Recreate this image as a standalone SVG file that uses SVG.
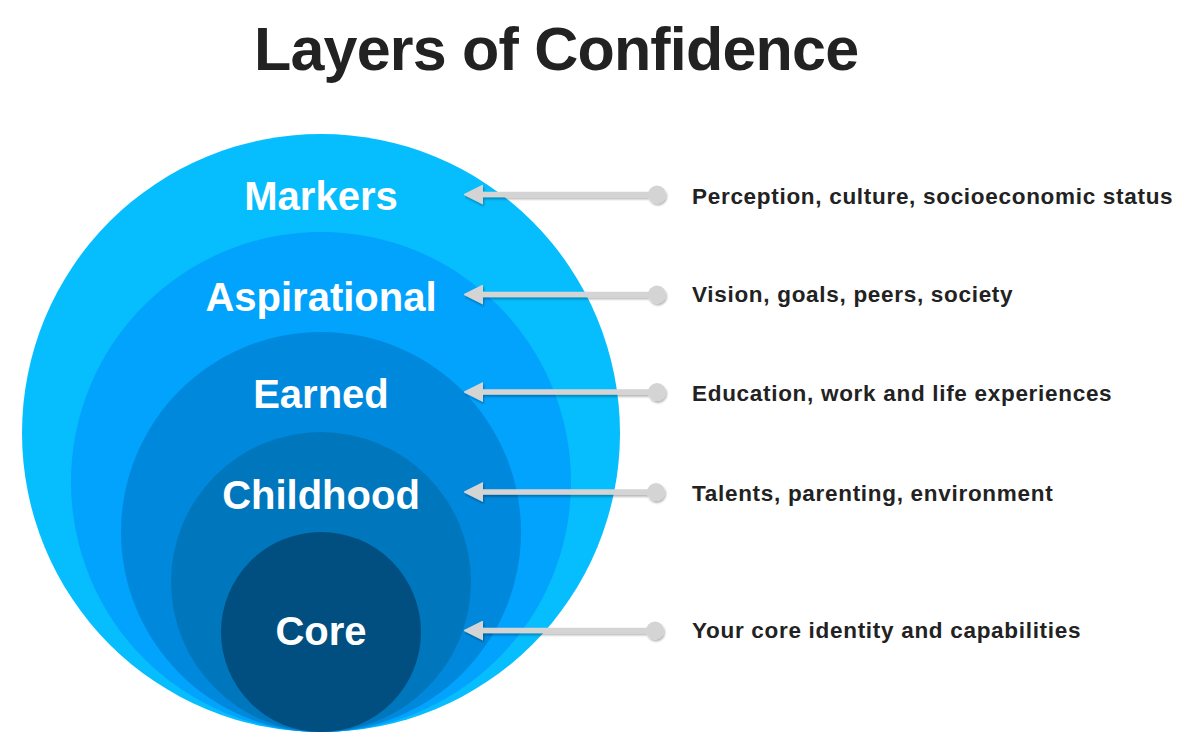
<svg xmlns="http://www.w3.org/2000/svg" width="1188" height="754" viewBox="0 0 1188 754">
<defs>
<style>
.title{font-family:"Liberation Sans",Arial,sans-serif;font-weight:bold;font-size:61px;fill:#222;letter-spacing:-0.8px}
.ring{font-family:"Liberation Sans",Arial,sans-serif;font-weight:bold;font-size:40px;fill:#fff;text-anchor:middle}
.desc{font-family:"Liberation Sans",Arial,sans-serif;font-weight:bold;font-size:22.5px;fill:#222;letter-spacing:0.7px}
.conn line{stroke:#d4d4d4;stroke-width:5.5}
.conn circle{fill:#d4d4d4}
</style>
<marker id="ah" viewBox="0 0 20 20" refX="0" refY="10" markerWidth="20" markerHeight="20" markerUnits="userSpaceOnUse" orient="auto-start-reverse">
<path d="M0,0 L20,10 L0,20 Z" fill="#d4d4d4"/>
</marker>
<filter id="sh" x="-10%" y="-50%" width="120%" height="200%">
<feGaussianBlur in="SourceAlpha" stdDeviation="1"/>
<feOffset dx="1" dy="1.5" result="b"/>
<feComponentTransfer><feFuncA type="linear" slope="0.3"/></feComponentTransfer>
<feMerge><feMergeNode/><feMergeNode in="SourceGraphic"/></feMerge>
</filter>
</defs>
<rect width="1188" height="754" fill="#fff"/>
<text class="title" x="254" y="70">Layers of Confidence</text>
<g id="markers"><circle cx="321" cy="433" r="299" fill="#06bdfd"/><text class="ring" x="321" y="210">Markers</text></g>
<g id="aspirational"><circle cx="321" cy="482" r="250" fill="#02a3fd"/><text class="ring" x="321" y="311">Aspirational</text></g>
<g id="earned"><circle cx="321" cy="532" r="200" fill="#0089dc"/><text class="ring" x="321" y="408">Earned</text></g>
<g id="childhood"><circle cx="321" cy="582" r="150" fill="#0077bd"/><text class="ring" x="321" y="509">Childhood</text></g>
<g id="core"><circle cx="321" cy="632" r="100" fill="#004f80"/><text class="ring" x="321" y="645">Core</text></g>
<g id="connectors" class="conn" filter="url(#sh)">
<line x1="657" y1="194.5" x2="483" y2="194.5" marker-end="url(#ah)"/><circle cx="657" cy="194.5" r="9"/>
<line x1="657" y1="294.5" x2="483" y2="294.5" marker-end="url(#ah)"/><circle cx="657" cy="294.5" r="9"/>
<line x1="657" y1="392" x2="483" y2="392" marker-end="url(#ah)"/><circle cx="657" cy="392" r="9"/>
<line x1="656" y1="492" x2="483" y2="492" marker-end="url(#ah)"/><circle cx="656" cy="492" r="9"/>
<line x1="655" y1="630.5" x2="483" y2="630.5" marker-end="url(#ah)"/><circle cx="655" cy="630.5" r="9"/>
</g>
<g id="descriptions">
<text class="desc" x="692" y="204">Perception, culture, socioeconomic status</text>
<text class="desc" x="692" y="302">Vision, goals, peers, society</text>
<text class="desc" x="692" y="401">Education, work and life experiences</text>
<text class="desc" x="692" y="501">Talents, parenting, environment</text>
<text class="desc" x="692" y="638">Your core identity and capabilities</text>
</g>
</svg>
